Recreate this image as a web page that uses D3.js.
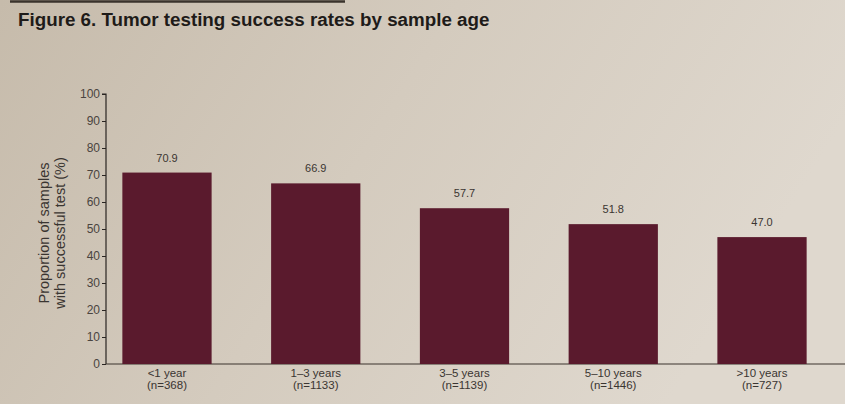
<!DOCTYPE html>
<html><head><meta charset="utf-8">
<script src="https://cdn.jsdelivr.net/npm/d3@7"></script>
<style>html,body{margin:0;padding:0;background:#d3cabc;}svg{display:block;}</style>
</head><body>
<script>
const categories = ["<1 year", "1–3 years", "3–5 years", "5–10 years", ">10 years"];
const sampleSizes = ["(n=368)", "(n=1133)", "(n=1139)", "(n=1446)", "(n=727)"];
const successRates = [70.9, 66.9, 57.7, 51.8, 47.0];
const yTicks = [0, 10, 20, 30, 40, 50, 60, 70, 80, 90, 100];
const titleText = "Figure 6. Tumor testing success rates by sample age";
const yTitleLines = ["Proportion of samples", "with successful test (%)"];

const W = 845, H = 404;
const svg = d3.select("body").append("svg").attr("width", W).attr("height", H);

const defs = svg.append("defs");
const grad = defs.append("linearGradient").attr("id", "bg").attr("x1", "0").attr("y1", "0").attr("x2", "1").attr("y2", "0.3");
grad.append("stop").attr("offset", "0").attr("stop-color", "#c6bbab");
grad.append("stop").attr("offset", "0.5").attr("stop-color", "#d4cbbe");
grad.append("stop").attr("offset", "1").attr("stop-color", "#dfd8ce");
svg.append("rect").attr("width", W).attr("height", H).attr("fill", "url(#bg)");

svg.append("line").attr("x1", 10).attr("x2", 345).attr("y1", 1.5).attr("y2", 1.5)
  .attr("stroke", "#3a332c").attr("stroke-width", 2.5);

svg.append("text").attr("x", 18).attr("y", 26)
  .attr("font-family", "Liberation Sans, Arial, sans-serif").attr("font-weight", "bold")
  .attr("font-size", 18.8).attr("fill", "#1e1b19").text(titleText);

const x0 = 106;
const x = d3.scaleBand().domain(categories).range([x0, 823]).paddingInner(0.4).paddingOuter(0.11);
const y = d3.scaleLinear().domain([0, 100]).range([364, 94]);

const font = "Liberation Sans, Arial, sans-serif";

// y axis
const yAxis = svg.append("g").attr("transform", `translate(${x0},0)`)
  .call(d3.axisLeft(y).tickValues(yTicks).tickSize(4).tickPadding(2));
yAxis.select(".domain").attr("stroke", "#2a2522").attr("stroke-width", 1.2).attr("d", `M-4,${y(100)}H0V${y(0)}`);
yAxis.selectAll(".tick line").attr("stroke", "#2a2522");
yAxis.selectAll(".tick text").attr("font-family", font).attr("font-size", 12).attr("fill", "#4a4440");

// x baseline
svg.append("line").attr("x1", x0).attr("x2", 845).attr("y1", y(0)).attr("y2", y(0))
  .attr("stroke", "#3a332c").attr("stroke-width", 1);

// bars
svg.append("g").selectAll("rect").data(successRates).join("rect")
  .attr("x", (d, i) => x(categories[i]))
  .attr("width", x.bandwidth())
  .attr("y", d => y(d))
  .attr("height", d => y(0) - y(d))
  .attr("fill", "#5a1a2d");

// value labels
svg.append("g").selectAll("text").data(successRates).join("text")
  .attr("x", (d, i) => x(categories[i]) + x.bandwidth() / 2)
  .attr("y", d => y(d) - 11)
  .attr("text-anchor", "middle").attr("font-family", font).attr("font-size", 11)
  .attr("fill", "#3a3531").text(d => d.toFixed(1));

// category labels
const cl = svg.append("g").selectAll("text").data(categories).join("text")
  .attr("x", d => x(d) + x.bandwidth() / 2)
  .attr("y", y(0) + 13)
  .attr("text-anchor", "middle").attr("font-family", font).attr("font-size", 11.5)
  .attr("fill", "#3a3531");
cl.append("tspan").attr("x", d => x(d) + x.bandwidth() / 2).text(d => d);
cl.append("tspan").attr("x", d => x(d) + x.bandwidth() / 2).attr("dy", 12).text((d, i) => sampleSizes[i]);

// y title
const yt = svg.append("text").attr("transform", `translate(49,${(y(0) + y(100)) / 2 + 4}) rotate(-90)`)
  .attr("text-anchor", "middle").attr("font-family", font).attr("font-size", 14.5).attr("fill", "#3a3531");
yTitleLines.forEach((t, i) => yt.append("tspan").attr("x", 0).attr("dy", i === 0 ? 0 : 16).text(t));
</script>
</body></html>
